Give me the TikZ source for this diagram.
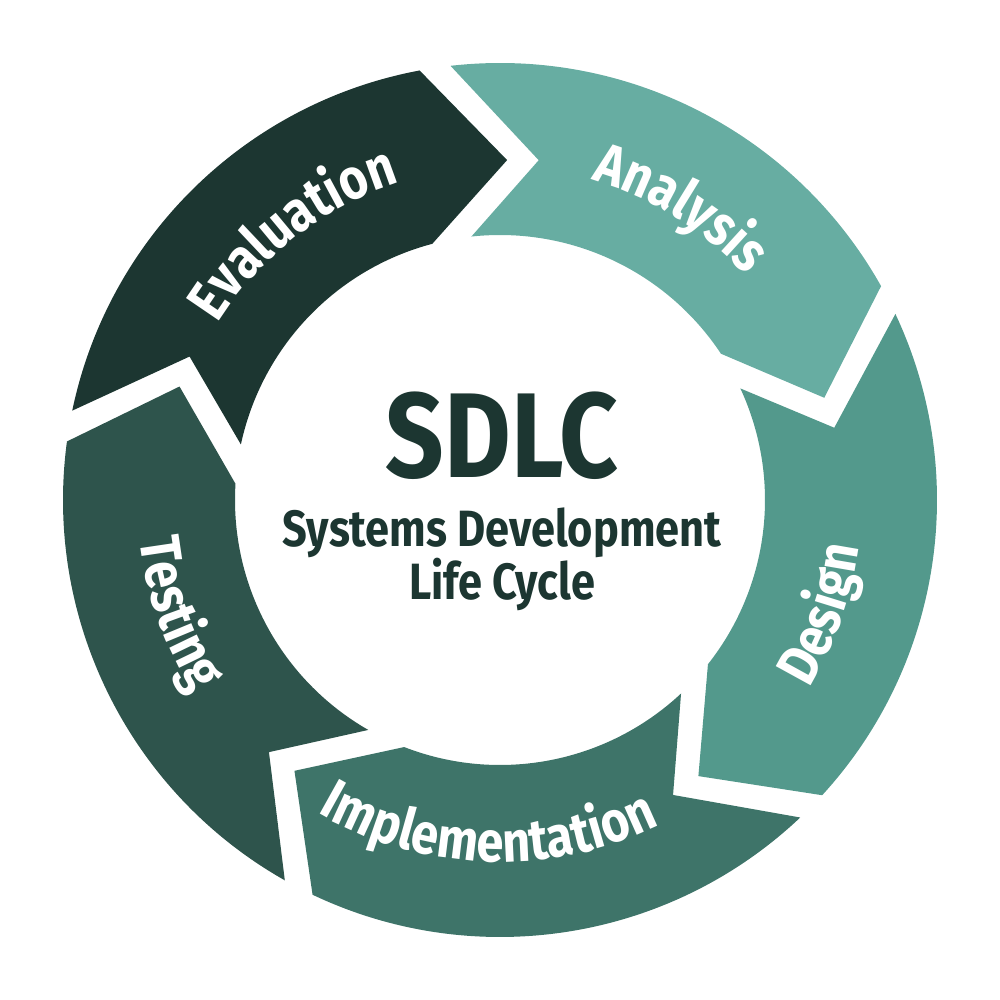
\documentclass[tikz,border=0pt]{standalone}
\usepackage{fontspec}
\usetikzlibrary{decorations.text}
\newfontfamily\sdlcfont{Fira Sans}[FakeStretch=0.85]
\newcommand{\ringfont}{\sdlcfont\bfseries\fontsize{16.3}{19}\selectfont}
\definecolor{evaluation}{HTML}{1C3631}
\definecolor{analysis}{HTML}{67ADA2}
\definecolor{design}{HTML}{53998C}
\definecolor{implement}{HTML}{3E7469}
\definecolor{testing}{HTML}{2E544C}

\begin{document}
\begin{tikzpicture}[x=0.01cm,y=0.01cm,inner sep=0pt,outer sep=0pt,
sdlctitle/.style={anchor=base,text=evaluation,font=\sdlcfont\bfseries\fontsize{34.3}{40}\selectfont},
sdlcsub/.style={anchor=base,text=evaluation,font=\sdlcfont\bfseries\fontsize{14.5}{17}\selectfont},
ringlabel/.style={decorate,decoration={text along path,text align=center,text color=white,text={|\ringfont|#1}}}]

\useasboundingbox (-500,-500) rectangle (500,500);

\foreach \tl/\hd/\col in {88.8/17.5/analysis,17.5/-54.3/design,-54.3/-127.2/implement,-127.2/-199.5/testing,160.5/88.8/evaluation}
  \fill[fill=\col] ({\tl+7.7}:437) arc[start angle=\tl+7.7,end angle=\hd+11.8,radius=437]
    -- (\hd:340) -- ({\hd+16}:265) arc[start angle=\hd+16,end angle=\tl+7.4,radius=265]
    -- ({\tl-5.3}:342) -- cycle;

\path[ringlabel=Analysis] ({58.2+45}:333) arc[start angle=58.2+45,end angle=58.2-45,radius=333];
\path[ringlabel=Evaluation] ({127.7+45}:333) arc[start angle=127.7+45,end angle=127.7-45,radius=333];
\path[ringlabel=Design] ({-19.4-45}:362) arc[start angle=-19.4-45,end angle=-19.4+45,radius=362];
\path[ringlabel=Implementation] ({-92-50}:362) arc[start angle=-92-50,end angle=-92+50,radius=362];
\path[ringlabel=Testing] ({199.3-45}:362) arc[start angle=199.3-45,end angle=199.3+45,radius=362];

\draw (2,22) node[sdlctitle] (sdlc) {SDLC};
\draw (2,-47) node[sdlcsub] (systems) {Systems Development};
\draw (2,-100) node[sdlcsub] (cycle) {Life Cycle};
\end{tikzpicture}
\end{document}
